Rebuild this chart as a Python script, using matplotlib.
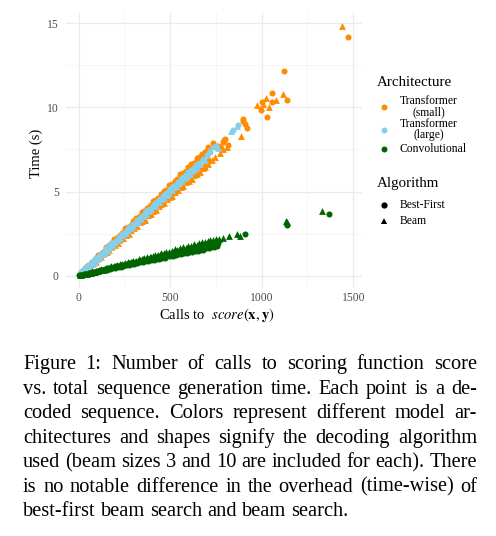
import matplotlib
matplotlib.use("Agg")
import matplotlib.pyplot as plt
from matplotlib.lines import Line2D

plt.rcParams['font.family'] = ['Liberation Serif', 'DejaVu Serif']
plt.rcParams['mathtext.fontset'] = 'stix'

# ---------------- data ----------------
# Transformer (small), Best-First : upper edge of the orange band
small_bf_x1 = [15, 30, 45, 60, 75, 90, 105, 120, 135, 150, 165, 180, 195, 210, 225, 240, 255, 270,
               285, 300, 315, 330, 345, 360, 375, 390, 405, 420, 435, 450, 465, 480, 495, 510, 525,
               540, 555, 570, 585, 600, 615, 630, 645, 660, 675, 690, 705]
small_bf_y1 = [0.21, 0.29, 0.56, 0.62, 0.83, 0.91, 1.22, 1.28, 1.40, 1.67, 1.82, 1.90, 2.17, 2.23,
               2.44, 2.52, 2.83, 2.89, 3.01, 3.27, 3.42, 3.50, 3.77, 3.83, 4.04, 4.12, 4.43, 4.49,
               4.61, 4.88, 5.03, 5.11, 5.38, 5.44, 5.65, 5.73, 6.04, 6.10, 6.22, 6.48, 6.63, 6.71,
               6.98, 7.04, 7.25, 7.33, 7.64]
small_bf_x2 = [22, 37, 52, 67, 82, 97, 112, 127, 142, 157, 172, 187, 202, 217, 232, 247, 262, 277,
               292, 307, 322, 337, 352, 367, 382, 397, 412, 427, 442, 457, 472, 487, 502, 517, 532,
               547, 562, 577, 592, 607, 622, 637, 652, 667, 682, 697, 712]
small_bf_y2 = [0.21, 0.43, 0.49, 0.73, 0.85, 1.06, 1.14, 1.34, 1.44, 1.64, 1.77, 1.99, 2.05, 2.29,
               2.41, 2.62, 2.70, 2.90, 3.00, 3.20, 3.33, 3.55, 3.61, 3.85, 3.97, 4.18, 4.26, 4.46,
               4.56, 4.76, 4.89, 5.11, 5.17, 5.41, 5.53, 5.74, 5.82, 6.02, 6.12, 6.32, 6.45, 6.67,
               6.73, 6.97, 7.09, 7.30, 7.38]
small_bf_x3 = [690, 708, 735, 760, 773, 790, 795, 799, 814, 899, 899, 908, 918, 996, 999, 1027,
               1054, 1059, 1123, 1136, 1472]
small_bf_y3 = [7.36, 7.50, 7.86, 7.70, 7.67, 7.95, 8.07, 8.15, 7.76, 9.29, 9.20, 9.00, 8.75, 9.84,
               10.33, 9.44, 10.87, 10.32, 12.16, 10.42, 14.20]

# Transformer (small), Beam : lower edge of the orange band
small_beam_x1 = [18, 33, 48, 63, 78, 93, 108, 123, 138, 153, 168, 183, 198, 213, 228, 243, 258,
                 273, 288, 303, 318, 333, 348, 363, 378, 393, 408, 423, 438, 453, 468, 483, 498,
                 513, 528, 543, 558, 573, 588, 603, 618, 633, 648, 663, 678, 693, 708]
small_beam_y1 = [0.11, 0.34, 0.43, 0.50, 0.77, 0.83, 1.02, 1.09, 1.32, 1.41, 1.52, 1.75, 1.84,
                 1.91, 2.18, 2.24, 2.43, 2.50, 2.73, 2.82, 2.93, 3.16, 3.25, 3.32, 3.59, 3.65,
                 3.84, 3.91, 4.14, 4.23, 4.34, 4.57, 4.66, 4.73, 5.00, 5.06, 5.25, 5.32, 5.55,
                 5.64, 5.75, 5.98, 6.07, 6.14, 6.41, 6.47, 6.66]
small_beam_x2 = [25, 40, 55, 70, 85, 100, 115, 130, 145, 160, 175, 190, 205, 220, 235, 250, 265,
                 280, 295, 310, 325, 340, 355, 370, 385, 400, 415, 430, 445, 460, 475, 490, 505,
                 520, 535, 550, 565, 580, 595, 610, 625, 640, 655, 670, 685, 700, 715]
small_beam_y2 = [0.26, 0.36, 0.54, 0.67, 0.78, 1.00, 1.10, 1.26, 1.43, 1.50, 1.72, 1.81, 2.00,
                 2.12, 2.24, 2.46, 2.55, 2.72, 2.88, 2.96, 3.17, 3.27, 3.45, 3.58, 3.69, 3.91,
                 4.01, 4.17, 4.34, 4.41, 4.63, 4.72, 4.91, 5.03, 5.15, 5.36, 5.46, 5.63, 5.79,
                 5.87, 6.08, 6.18, 6.36, 6.49, 6.60, 6.82, 6.92]
small_beam_x3 = [730, 745, 772, 790, 808, 887, 975, 1005, 1023, 1041, 1076, 1117, 1441]
small_beam_y3 = [6.85, 7.05, 7.27, 7.50, 7.67, 8.31, 10.14, 10.20, 10.57, 10.00, 10.43, 10.79,
                 14.86]

# Transformer (large), Best-First
large_bf_x = [12, 26, 40, 54, 68, 82, 96, 110, 124, 138, 152, 166, 180, 194, 208, 222, 236, 250,
              264, 278, 292, 306, 320, 334, 348, 362, 376, 390, 404, 418, 432, 446, 460, 474, 488,
              502, 516, 530, 544, 558, 572, 586, 600, 614, 628, 642, 656, 680, 700, 718, 737, 750,
              845, 868]
large_bf_y = [0.20, 0.31, 0.49, 0.60, 0.73, 0.90, 1.06, 1.15, 1.31, 1.47, 1.61, 1.73, 1.91, 2.02,
              2.14, 2.31, 2.47, 2.56, 2.73, 2.89, 3.03, 3.14, 3.32, 3.43, 3.55, 3.73, 3.89, 3.98,
              4.14, 4.30, 4.44, 4.55, 4.74, 4.85, 4.97, 5.14, 5.30, 5.39, 5.55, 5.72, 5.86, 5.97,
              6.15, 6.26, 6.38, 6.55, 6.72, 6.95, 7.15, 7.37, 7.67, 7.70, 8.65, 8.95]

# Transformer (large), Beam
large_beam_x = [19, 33, 47, 61, 75, 89, 103, 117, 131, 145, 159, 173, 187, 201, 215, 229, 243,
                257, 271, 285, 299, 313, 327, 341, 355, 369, 383, 397, 411, 425, 439, 453, 467,
                481, 495, 509, 523, 537, 551, 565, 579, 593, 607, 621, 635, 649, 663, 690, 710,
                760, 830, 863]
large_beam_y = [0.12, 0.29, 0.38, 0.57, 0.70, 0.82, 1.00, 1.11, 1.29, 1.38, 1.54, 1.71, 1.80,
                1.98, 2.11, 2.23, 2.41, 2.53, 2.71, 2.80, 2.95, 3.12, 3.21, 3.39, 3.52, 3.65,
                3.83, 3.94, 4.12, 4.21, 4.36, 4.53, 4.63, 4.81, 4.94, 5.06, 5.24, 5.35, 5.53,
                5.63, 5.78, 5.95, 6.04, 6.22, 6.35, 6.47, 6.66, 6.90, 7.46, 7.60, 8.60, 8.90]

# Convolutional, Best-First
conv_bf_x1 = [5, 20, 35, 50, 65, 80, 95, 110, 125, 140, 155, 170, 185, 200, 215, 230, 245, 260,
              275, 290, 305, 320, 335, 350, 365, 380, 395, 410, 425, 440, 455, 470, 485, 500, 515,
              530, 545, 560, 575, 590, 605, 620, 635, 650, 665, 680, 695, 710, 725, 740, 755]
conv_bf_y1 = [0.01, 0.03, 0.10, 0.11, 0.16, 0.16, 0.23, 0.25, 0.31, 0.31, 0.36, 0.37, 0.45, 0.45,
              0.50, 0.51, 0.57, 0.60, 0.65, 0.66, 0.70, 0.72, 0.79, 0.80, 0.85, 0.85, 0.92, 0.94,
              1.00, 1.00, 1.05, 1.06, 1.14, 1.14, 1.19, 1.20, 1.26, 1.29, 1.34, 1.35, 1.39, 1.41,
              1.48, 1.49, 1.54, 1.54, 1.61, 1.63, 1.69, 1.69, 1.74]
conv_bf_x2 = [12, 27, 42, 57, 72, 87, 102, 117, 132, 147, 162, 177, 192, 207, 222, 237, 252, 267,
              282, 297, 312, 327, 342, 357, 372, 387, 402, 417, 432, 447, 462, 477, 492, 507, 522,
              537, 552, 567, 582, 597, 612, 627, 642, 657, 672, 687, 702, 717, 732, 747, 762, 910,
              1139, 1367]
conv_bf_y2 = [0.04, 0.06, 0.11, 0.16, 0.16, 0.23, 0.26, 0.28, 0.35, 0.37, 0.42, 0.43, 0.48, 0.54,
              0.54, 0.60, 0.63, 0.66, 0.73, 0.74, 0.79, 0.81, 0.86, 0.91, 0.91, 0.98, 1.01, 1.03,
              1.10, 1.12, 1.17, 1.18, 1.23, 1.29, 1.29, 1.35, 1.38, 1.41, 1.48, 1.49, 1.54, 1.56,
              1.61, 1.66, 1.66, 1.73, 1.76, 1.78, 1.85, 1.87, 1.92, 2.46, 2.99, 3.65]

# Convolutional, Beam
conv_beam_x1 = [8, 23, 38, 53, 68, 83, 98, 113, 128, 143, 158, 173, 188, 203, 218, 233, 248, 263,
                278, 293, 308, 323, 338, 353, 368, 383, 398, 413, 428, 443, 458, 473, 488, 503,
                518, 533, 548, 563, 578, 593, 608, 623, 638, 653, 668, 683, 698, 713, 728, 743,
                758]
conv_beam_y1 = [0.02, 0.08, 0.09, 0.15, 0.18, 0.20, 0.29, 0.31, 0.34, 0.40, 0.43, 0.49, 0.50,
                0.56, 0.59, 0.61, 0.69, 0.71, 0.74, 0.80, 0.83, 0.89, 0.90, 0.96, 0.99, 1.01,
                1.09, 1.12, 1.15, 1.21, 1.24, 1.30, 1.31, 1.37, 1.40, 1.42, 1.50, 1.52, 1.55,
                1.61, 1.64, 1.70, 1.71, 1.77, 1.80, 1.82, 1.90, 1.92, 1.96, 2.02, 2.05]
conv_beam_x2 = [15, 30, 45, 60, 75, 90, 105, 120, 135, 150, 165, 180, 195, 210, 225, 240, 255,
                270, 285, 300, 315, 330, 345, 360, 375, 390, 405, 420, 435, 450, 465, 480, 495,
                510, 525, 540, 555, 570, 585, 600, 615, 630, 645, 660, 675, 690, 705, 720, 735,
                750, 765, 790, 823, 863, 881, 1132, 1136, 1327]
conv_beam_y2 = [0.02, 0.12, 0.10, 0.18, 0.26, 0.24, 0.30, 0.38, 0.35, 0.46, 0.46, 0.55, 0.54,
                0.62, 0.69, 0.68, 0.74, 0.81, 0.79, 0.89, 0.89, 0.99, 0.97, 1.05, 1.13, 1.11,
                1.17, 1.25, 1.22, 1.33, 1.33, 1.42, 1.41, 1.49, 1.56, 1.55, 1.61, 1.68, 1.66,
                1.76, 1.76, 1.86, 1.84, 1.92, 2.00, 1.98, 2.04, 2.12, 2.09, 2.20, 2.20, 2.22,
                2.36, 2.50, 2.36, 3.25, 3.19, 3.85]

x_ticks = [0, 500, 1000, 1500]
y_ticks = [0, 5, 10, 15]
arch_labels = ["Transformer\n(small)", "Transformer\n(large)", "Convolutional"]
algo_labels = ["Best-First", "Beam"]
colors = ["#FF8C00", "#87CEEB", "#006400"]

caption_lines = [
    "Figure 1:  Number of calls to scoring function score",
    "vs. total sequence generation time. Each point is a de-",
    "coded sequence.  Colors represent different model ar-",
    "chitectures and shapes signify the decoding algorithm",
    "used (beam sizes 3 and 10 are included for each). There",
    "is no notable difference in the overhead (time-wise) of",
    "best-first beam search and beam search.",
]

# ---------------- figure ----------------
W, H = 496, 536
fig = plt.figure(figsize=(W / 100, H / 100), dpi=100)
fig.patch.set_facecolor("white")


def fx(px):
    return px / W


def fy(py):
    return 1 - py / H


ax = fig.add_axes([fx(65.7), fy(288), 296 / W, 274.7 / H])
ax.set_facecolor("white")
for s in ax.spines.values():
    s.set_visible(False)

groups = [
    (small_bf_x1 + small_bf_x2 + small_bf_x3, small_bf_y1 + small_bf_y2 + small_bf_y3, colors[0], 'o', 19),
    (small_beam_x1 + small_beam_x2 + small_beam_x3, small_beam_y1 + small_beam_y2 + small_beam_y3, colors[0], '^', 24),
    (large_bf_x, large_bf_y, colors[1], 'o', 19),
    (large_beam_x, large_beam_y, colors[1], '^', 24),
    (conv_bf_x1 + conv_bf_x2, conv_bf_y1 + conv_bf_y2, colors[2], 'o', 19),
    (conv_beam_x1 + conv_beam_x2, conv_beam_y1 + conv_beam_y2, colors[2], '^', 24),
]
for gx, gy, c, m, ms in groups:
    ax.scatter(gx, gy, s=ms, c=c, marker=m, linewidths=0, zorder=3)

ax.set_xlim(-70, 1546)
ax.set_ylim(-0.74, 15.6)
ax.set_xticks(x_ticks)
ax.set_yticks(y_ticks)
ax.set_xticks([250, 750, 1250], minor=True)
ax.set_yticks([2.5, 7.5, 12.5], minor=True)
ax.grid(True, which='major', color='#EBEBEB', linewidth=0.9, zorder=0)
ax.grid(True, which='minor', color='#F2F2F2', linewidth=0.5, zorder=0)
ax.set_axisbelow(True)
ax.tick_params(which='both', length=0, labelsize=8.4, labelcolor='#4D4D4D')
ax.tick_params(axis='y', pad=5)
ax.tick_params(axis='x', pad=2.7)

fig.text(fx(36.7), fy(153), "Time (s)", rotation=90, ha='center', va='center', fontsize=10.5)
fig.text(fx(216.5), fy(319), r"Calls to  $\mathit{score}(\mathbf{x},\mathbf{y})$",
         ha='center', va='baseline', fontsize=10.5)

# ---------------- legend ----------------
fig.text(fx(376.7), fy(86.5), "Architecture", ha='left', va='baseline', fontsize=10.8)
arch_y = [106.7, 129.5, 149]
for lab, c, yy in zip(arch_labels, colors, arch_y):
    fig.add_artist(Line2D([fx(384)], [fy(yy)], marker='o', markersize=4.3, color=c,
                          markeredgewidth=0, linestyle='None', transform=fig.transFigure))
    if "\n" in lab:
        fig.text(fx(428.5), fy(yy), lab, ha='center', va='center', multialignment='center',
                 fontsize=8.4, linespacing=0.95)
    else:
        fig.text(fx(399.3), fy(yy), lab, ha='left', va='center', fontsize=8.4)

fig.text(fx(376.7), fy(187.5), "Algorithm", ha='left', va='baseline', fontsize=10.8)
algo_y = [205, 221]
for lab, m, yy in zip(algo_labels, ['o', '^'], algo_y):
    fig.add_artist(Line2D([fx(384)], [fy(yy)], marker=m, markersize=4.5, color='black',
                          markeredgewidth=0, linestyle='None', transform=fig.transFigure))
    fig.text(fx(399.3), fy(yy), lab, ha='left', va='center', fontsize=8.4)

# ---------------- caption (justified) ----------------
cap_size = 14.7
left, right = 23.0, 477.0
baseline0, lead = 369.3, 24.5
renderer = fig.canvas.get_renderer()
space_w = 0.25 * cap_size * 100 / 72
for i, line in enumerate(caption_lines):
    words = line.split()
    texts = [fig.text(0, 0, w, fontsize=cap_size, ha='left', va='baseline') for w in words]
    widths = [t.get_window_extent(renderer).width for t in texts]
    yb = baseline0 + i * lead
    if i < len(caption_lines) - 1:
        gap = (right - left - sum(widths)) / (len(words) - 1)
    else:
        gap = space_w
    xcur = left
    for t, w in zip(texts, widths):
        t.set_position((fx(xcur), fy(yb)))
        xcur += w + gap

fig.savefig("out.png", dpi=100, facecolor="white")
